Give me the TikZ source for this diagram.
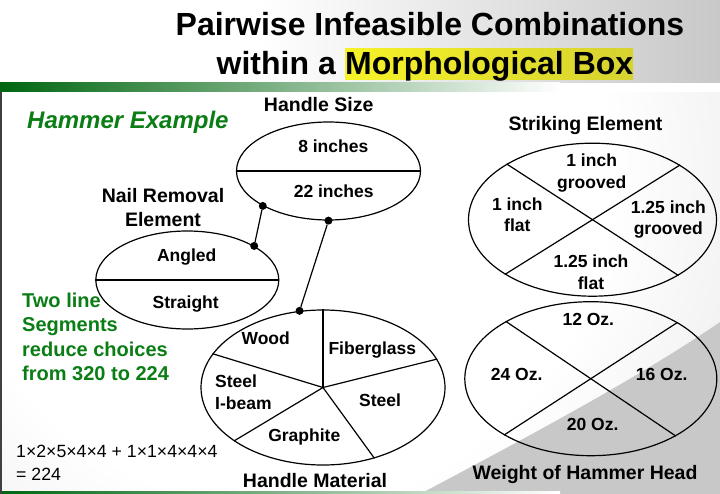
\documentclass[tikz,border=0pt]{standalone}
\usepackage{fontspec}
\setmainfont{Liberation Sans}
\usetikzlibrary{shapes.geometric, positioning}

\definecolor{bargreen}{RGB}{0,102,16}
\definecolor{notegreen}{RGB}{10,125,20}
\definecolor{bggray}{RGB}{200,200,200}
\definecolor{hlyellow}{RGB}{246,242,40}
\definecolor{hlolive}{RGB}{214,210,48}
\pgfdeclareradialshading{slideglow}{\pgfpoint{0pt}{0pt}}{color(0bp)=(white); color(9bp)=(white); color(25bp)=(bggray); color(50bp)=(bggray)}

\newcommand{\titlefont}{\fontsize{32}{38}\selectfont\bfseries}
\newcommand{\headfont}{\fontsize{19.5}{24.5}\selectfont\bfseries}
\newcommand{\itemfont}{\fontsize{17.5}{21.5}\selectfont\bfseries}

\begin{document}
\begin{tikzpicture}[x=1pt, y=-1pt,
    morph/.style={ellipse, draw, line width=1.2pt, inner sep=0pt},
    pin/.style={circle, fill, inner sep=0pt, minimum size=8pt},
    link/.style={line width=1.2pt},
    choice/.style={font=\itemfont, align=center, inner sep=0pt},
    heading/.style={font=\headfont, align=center, inner sep=0pt},
    note/.style={font=\fontsize{20}{24.5}\selectfont\bfseries, text=notegreen, align=left, inner sep=0pt},
    title/.style={font=\titlefont, inner sep=0pt}
    ]
\useasboundingbox (0,0) rectangle (720,494);
% slide background
\fill[white] (0,0) rectangle (720,83);
\shade[left color=white, right color=bggray] (260,0) rectangle (720,83);
\begin{scope}
\clip (0,92) rectangle (720,494);
\shade[shading=slideglow] (280,175) circle (920);
\fill[bggray] (420,494) .. controls (560,420) and (650,370) .. (720,322) -- (720,494) -- cycle;
\end{scope}
\shade[left color=bargreen, right color=white] (0,83) rectangle (560,92);
\fill[white] (560,83) rectangle (720,92);
\shade[left color=bargreen, right color=white] (0,491) rectangle (560,494);
\draw[line width=1.5pt, black!75] (0.75,92) -- (0.75,494);

% title
\node[title, anchor=base] (title1) at (430,36) {Pairwise Infeasible Combinations};
\node[title, anchor=base west, text height=26pt, text depth=5pt, left color=hlyellow, right color=hlolive] (title2b) at (345,75) {Morphological Box};
\node[title, anchor=base east] (title2a) at ([xshift=-9pt]title2b.base west) {within a};

% morphological boxes
\node[morph, minimum width=184, minimum height=98] (hsize) at (328.5,171) {};
\node[morph, minimum width=183, minimum height=98] (nail) at (187.3,280) {};
\node[morph, minimum width=244, minimum height=155] (material) at (323,387.5) {};
\node[morph, minimum width=248, minimum height=153] (strike) at (592.5,219.7) {};
\node[morph, minimum width=252, minimum height=154] (weight) at (590.8,378.7) {};

\draw[line width=1.2pt] (hsize.west) -- (hsize.east);
\draw[line width=1.2pt] (nail.west) -- (nail.east);
\foreach \a in {90,14,306.4,211.6,163.6}
    \draw[line width=1.2pt] (material.center) -- (material.\a);
\draw[line width=1.2pt] (strike.32.5) -- (strike.212.5);
\draw[line width=1.2pt] (strike.147.5) -- (strike.327.5);
\draw[line width=1.2pt] (weight.33.3) -- (weight.213.3);
\draw[line width=1.2pt] (weight.146.7) -- (weight.326.7);

% infeasible pairs
\node[pin] (pinA) at (hsize.208.4) {};
\node[pin] (pinB) at (nail.27.8) {};
\node[pin] (pinC) at (hsize.south) {};
\node[pin] (pinD) at (material.107) {};
\draw[link] (pinA) -- (pinB);
\draw[link] (pinC) -- (pinD);

% headings
\node[heading, anchor=base] (hsizehead) at (318.7,111.7) {Handle Size};
\node[heading, anchor=base] (nailhead) at (163,226.7) {Nail Removal\\Element};
\node[heading, anchor=base] (materialhead) at (315,487) {Handle Material};
\node[heading, anchor=base] (strikehead) at (585.5,131) {Striking Element};
\node[heading, anchor=base] (weighthead) at (585,479.3) {Weight of Hammer Head};

% choices
\node[choice, anchor=base] (eight) at (333.3,152.5) {8 inches};
\node[choice, anchor=base] (twentytwo) at (333.7,197.7) {22 inches};
\node[choice, anchor=base] (angled) at (186.7,261.7) {Angled};
\node[choice, anchor=base] (straight) at (185.7,308.3) {Straight};
\node[choice, anchor=base] (wood) at (265.7,344.3) {Wood};
\node[choice, anchor=base] (fiber) at (372.3,354) {Fiberglass};
\node[choice, anchor=base] (steel) at (380,406) {Steel};
\node[choice, anchor=base west, align=left] (ibeam) at (215,409.3) {Steel\\I-beam};
\node[choice, anchor=base] (graphite) at (304.3,441) {Graphite};
\node[choice, anchor=base] (onegroove) at (591.7,188.3) {1 inch\\grooved};
\node[choice, anchor=base] (oneflat) at (517.3,231.7) {1 inch\\flat};
\node[choice, anchor=base] (quartgroove) at (668.3,235) {1.25 inch\\grooved};
\node[choice, anchor=base] (quartflat) at (591,289.3) {1.25 inch\\flat};
\node[choice, anchor=base] (oz12) at (588.3,325) {12 Oz.};
\node[choice, anchor=base] (oz24) at (516.7,380.7) {24 Oz.};
\node[choice, anchor=base] (oz16) at (661.7,380.7) {16 Oz.};
\node[choice, anchor=base] (oz20) at (592.7,430) {20 Oz.};

% notes
\node[note, anchor=base west, font=\fontsize{24}{28}\selectfont\bfseries\itshape] (example) at (27,129) {Hammer Example};
\node[note, anchor=base west] (reduce) at (22,380.5) {Two line\\Segments\\reduce choices\\from 320 to 224};
\node[anchor=base west, align=left, inner sep=0pt, font=\fontsize{17.7}{22.3}\selectfont] (count) at (16,480) {1×2×5×4×4 + 1×1×4×4×4\\= 224};
\end{tikzpicture}
\end{document}
